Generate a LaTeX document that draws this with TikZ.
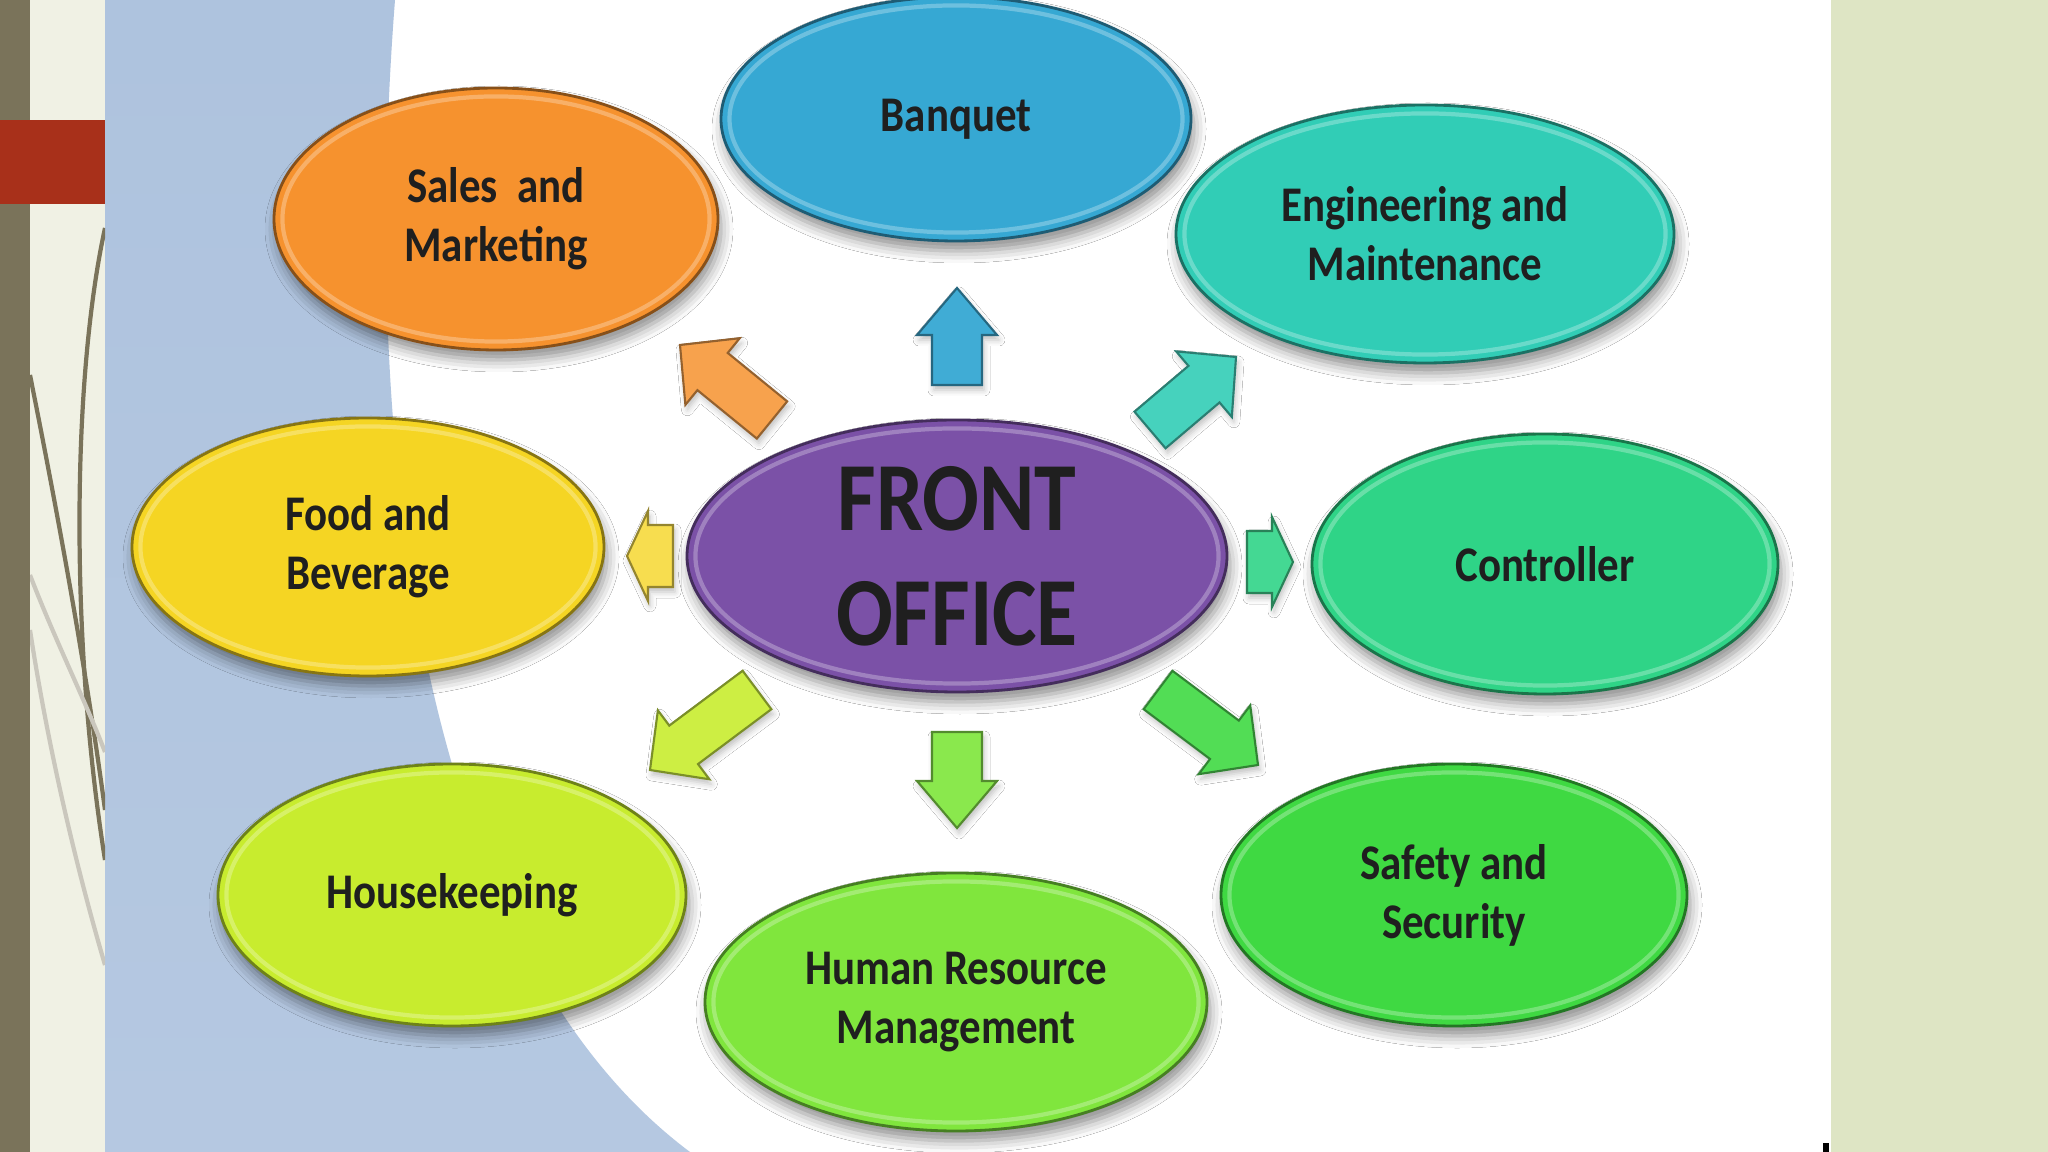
\documentclass[tikz,border=0pt]{standalone}
\usepackage{fontspec}
\newfontfamily\deptfont{Carlito}[FakeStretch=0.86]
\usetikzlibrary{shapes.geometric, shadows.blur, calc}

\definecolor{stripe}{HTML}{7A735A}
\definecolor{cream}{HTML}{F0F1E4}
\definecolor{redbar}{HTML}{A8301A}
\definecolor{sage}{HTML}{DEE5C4}
\definecolor{skyA}{HTML}{AEC3DE}
\definecolor{skyB}{HTML}{CAD8EA}
\definecolor{skyC}{HTML}{B5C8E1}

\definecolor{cBanq}{HTML}{36A8D3}
\definecolor{cSales}{HTML}{F6922E}
\definecolor{cEng}{HTML}{31CDB6}
\definecolor{cFood}{HTML}{F5D523}
\definecolor{cFront}{HTML}{7B51A7}
\definecolor{cCtrl}{HTML}{2FD487}
\definecolor{cHouse}{HTML}{C8EC2E}
\definecolor{cHR}{HTML}{80E63D}
\definecolor{cSafe}{HTML}{3FD942}

% block arrow: tail, tip, colour, half shaft, half head, head length
\newcommand{\deptarrow}[6]{%
  \coordinate (neck) at ($(#2)!#6!(#1)$);
  \filldraw[fill=#3, draw=#3!60!black, line width=0.6pt, arrowshade]
    ($(#1)!#4!90:(#2)$) -- ($(neck)!#4!90:(#2)$) -- ($(neck)!#5!90:(#2)$) -- (#2)
    -- ($(neck)!#5!-90:(#2)$) -- ($(neck)!#4!-90:(#2)$) -- ($(#1)!#4!-90:(#2)$) -- cycle;
}

\begin{document}
\begin{tikzpicture}[x=0.1mm, y=-0.1mm]

\tikzset{
  dept/.style={ellipse, fill=#1, draw=#1!55!black, line width=0.8pt, inner sep=0pt,
    align=center, text=black!88, font=\deptfont\bfseries\fontsize{14.2}{16.8}\selectfont,
    blur shadow={shadow xshift=0.3mm, shadow yshift=-1mm, shadow blur radius=1.2mm, shadow opacity=45},
    path picture={
      \draw[white, opacity=.28, line width=1.2pt]
        let \p1=($(path picture bounding box.north east)-(path picture bounding box.center)$)
        in (path picture bounding box.center) ellipse [x radius=\x1-2.4pt, y radius=\y1-2.4pt];
    }},
  hub/.style={dept=#1, font=\deptfont\bfseries\fontsize{27.8}{32.7}\selectfont},
  arrowshade/.style={blur shadow={shadow xshift=0.2mm, shadow yshift=-0.5mm, shadow blur radius=0.6mm, shadow opacity=25}}
}

\useasboundingbox (0,0) rectangle (2048,1152);

% --- Hintergrund ---
\fill[stripe] (0,0) rectangle (30,1152);
\fill[cream] (30,0) rectangle (105,1152);
\fill[sage] (1831,0) rectangle (2048,1152);
\fill[white] (105,0) rectangle (1831,1152);
\shade[top color=skyA, middle color=skyB, bottom color=skyC]
  (105,0) -- (395,0) .. controls (360,450) and (420,950) .. (690,1152) -- (105,1152) -- cycle;
\fill[redbar] (0,120) rectangle (105,204);
\begin{scope}
  \clip (30,0) rectangle (105,1152);
  \draw[stripe, line width=1.2pt] (105,228) .. controls (72,380) and (70,640) .. (105,860);
  \draw[stripe, line width=1.2pt] (30,375) .. controls (55,500) and (85,660) .. (105,810);
  \draw[stripe!40, line width=1.2pt] (30,575) .. controls (55,640) and (85,700) .. (105,752);
  \draw[stripe!40, line width=1.2pt] (30,630) .. controls (50,760) and (80,880) .. (105,965);
\end{scope}
\fill[black] (1823,1143) rectangle (1829,1152);

% --- Abteilungen ---
\node[hub=cFront, minimum width=54mm, minimum height=27.2mm] (fo) at (957,556) {FRONT\\OFFICE};

\node[dept=cBanq, minimum width=47mm, minimum height=24.4mm] (banq) at (956,119) {Banquet};
\node[dept=cSales, minimum width=44.4mm, minimum height=26.2mm] (sales) at (496,219) {Sales\ \ and\\Marketing};
\node[dept=cEng, minimum width=49.8mm, minimum height=25.8mm] (eng) at (1425,234) {Engineering and\\Maintenance};
\node[dept=cFood, minimum width=47.2mm, minimum height=25.8mm] (food) at (368,547) {Food and\\Beverage};
\node[dept=cCtrl, minimum width=46.6mm, minimum height=26mm] (ctrl) at (1545,564) {Controller};
\node[dept=cHouse, minimum width=46.8mm, minimum height=26.2mm] (house) at (452,895) {Housekeeping};
\node[dept=cHR, minimum width=50.2mm, minimum height=25.8mm] (hr) at (956,1002) {Human Resource\\Management};
\node[dept=cSafe, minimum width=46.6mm, minimum height=26.2mm] (safe) at (1454,895) {Safety and\\Security};

% --- Pfeile (Fuss / Spitze) ---
\coordinate (banq-t) at (957,385);   \coordinate (banq-h) at (957,288);
\coordinate (sales-t) at (772,420);  \coordinate (sales-h) at (680,345);
\coordinate (eng-t) at (1150,430);   \coordinate (eng-h) at (1236,357);
\coordinate (food-t) at (673,556);   \coordinate (food-h) at (627,556);
\coordinate (ctrl-t) at (1247,562);  \coordinate (ctrl-h) at (1293,562);
\coordinate (house-t) at (757,690);  \coordinate (house-h) at (650,770);
\coordinate (hr-t) at (957,732);     \coordinate (hr-h) at (957,828);
\coordinate (safe-t) at (1158,690);  \coordinate (safe-h) at (1258,765);

\deptarrow{banq-t}{banq-h}{cBanq!95!white}{2.5mm}{4mm}{4.7mm}
\deptarrow{sales-t}{sales-h}{cSales!85!white}{2.4mm}{4.3mm}{4.2mm}
\deptarrow{eng-t}{eng-h}{cEng!90!white}{2.4mm}{4.3mm}{4.2mm}
\deptarrow{food-t}{food-h}{cFood!80!white}{3.1mm}{4.5mm}{2.1mm}
\deptarrow{ctrl-t}{ctrl-h}{cCtrl!90!white}{3.1mm}{4.5mm}{2.1mm}
\deptarrow{house-t}{house-h}{cHouse!90!white}{2.4mm}{4.3mm}{4.2mm}
\deptarrow{hr-t}{hr-h}{cHR!92!white}{2.5mm}{4mm}{4.7mm}
\deptarrow{safe-t}{safe-h}{cSafe!90!white}{2.4mm}{4.3mm}{4.2mm}

\end{tikzpicture}
\end{document}
